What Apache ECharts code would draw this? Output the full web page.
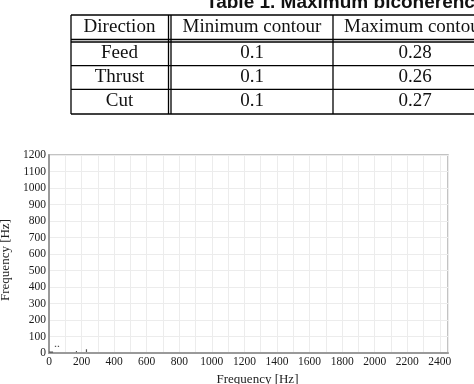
<!DOCTYPE html>
<html>
<head>
<meta charset="utf-8">
<script src="https://cdn.jsdelivr.net/npm/echarts@6/dist/echarts.min.js"></script>
<style>
html,body{margin:0;padding:0;background:#fff;}
#c{width:474px;height:384px;}
</style>
</head>
<body>
<div id="c"></div>
<script>
// ---- table data ----
const tableTitle = 'Table 1. Maximum bicoherence values';
const tableHeaders = ['Direction', 'Minimum contour', 'Maximum contour'];
const directions = ['Feed', 'Thrust', 'Cut'];
const minContour = ['0.1', '0.1', '0.1'];
const maxContour = ['0.28', '0.26', '0.27'];

// ---- chart data ----
const xTickValues = [0, 200, 400, 600, 800, 1000, 1200, 1400, 1600, 1800, 2000, 2200, 2400];
const yTickValues = [0, 100, 200, 300, 400, 500, 600, 700, 800, 900, 1000, 1100, 1200];
const contourSeg1 = [[0, 5], [25, 5]];
const contourSeg2 = [[36, 40], [44, 40]];
const contourSeg3 = [[54, 40], [62, 40]];
const contourSeg4 = [[165, 8], [172, 8]];
const contourSeg5 = [[230, 6], [230, 22]];

const segments = [contourSeg1, contourSeg2, contourSeg3, contourSeg4, contourSeg5];
const lineData = [];
segments.forEach((s, i) => { if (i) lineData.push([null, null]); s.forEach(p => lineData.push(p)); });

// ---- table graphics ----
const colX = [71, 168.5, 171, 333, 497];
const rowY = [15, 39.5, 42, 65.7, 89.3, 114];
const graphics = [];
const LW = 1.3;
function hline(y, x1, x2) { graphics.push({type: 'line', shape: {x1: x1, y1: y, x2: x2, y2: y}, style: {stroke: '#000', lineWidth: LW}}); }
function vline(x, y1, y2) { graphics.push({type: 'line', shape: {x1: x, y1: y1, x2: x, y2: y2}, style: {stroke: '#000', lineWidth: LW}}); }
rowY.forEach(y => hline(y, colX[0], colX[4]));
colX.forEach(x => vline(x, rowY[0], rowY[5]));
const colCenters = [119.5, 252, 415];
const rowCenters = [27, 53.5, 77.5, 101.5];
function cellText(t, x, y) {
  graphics.push({type: 'text', x: x, y: y, style: {text: t, font: '19px "Liberation Serif"', fill: '#111', align: 'center', verticalAlign: 'middle'}});
}
tableHeaders.forEach((h, i) => cellText(h, colCenters[i], rowCenters[0]));
directions.forEach((d, i) => {
  cellText(d, colCenters[0], rowCenters[i + 1]);
  cellText(minContour[i], colCenters[1], rowCenters[i + 1]);
  cellText(maxContour[i], colCenters[2], rowCenters[i + 1]);
});
graphics.push({type: 'text', x: 206, y: 3, style: {text: tableTitle, font: 'bold 19px "Liberation Sans"', fill: '#111', align: 'left', verticalAlign: 'middle'}});

const chart = echarts.init(document.getElementById('c'));
const serif = '"Liberation Serif", "DejaVu Serif", serif';
chart.setOption({
  animation: false,
  backgroundColor: '#fff',
  graphic: graphics,
  grid: {left: 49, right: 26, top: 155, bottom: 31, show: true, borderColor: '#b0b0b0', borderWidth: 1.5, containLabel: false, outerBoundsMode: 'none'},
  xAxis: {
    type: 'value', min: 0, max: 2450, interval: 100,
    name: 'Frequency [Hz]', nameLocation: 'middle', nameGap: 17,
    nameTextStyle: {fontFamily: serif, fontSize: 13, color: '#222', padding: [0, 0, 0, 18]},
    axisLine: {show: true, lineStyle: {color: '#9a9a9a', width: 2}},
    axisTick: {show: false},
    axisLabel: {fontFamily: serif, fontSize: 11.5, color: '#1a1a1a', margin: 3, showMaxLabel: false,
      formatter: v => xTickValues.indexOf(v) >= 0 ? String(v) : ''},
    splitLine: {show: true, lineStyle: {color: '#ececec', width: 1}}
  },
  yAxis: {
    type: 'value', min: 0, max: 1200, interval: 100,
    name: 'Frequency [Hz]', nameLocation: 'middle', nameGap: 37,
    nameTextStyle: {fontFamily: serif, fontSize: 13, color: '#222', padding: [0, 12, 0, 0]},
    axisLine: {show: true, lineStyle: {color: '#9a9a9a', width: 2}},
    axisTick: {show: false},
    axisLabel: {fontFamily: serif, fontSize: 11.5, color: '#1a1a1a', margin: 3,
      formatter: v => yTickValues.indexOf(v) >= 0 ? String(v) : ''},
    splitLine: {show: true, lineStyle: {color: '#ececec', width: 1}}
  },
  series: [{
    type: 'line', data: lineData, connectNulls: false, showSymbol: false, symbol: 'none',
    lineStyle: {color: '#555', width: 1.2}, silent: true
  }]
});
</script>
</body>
</html>
